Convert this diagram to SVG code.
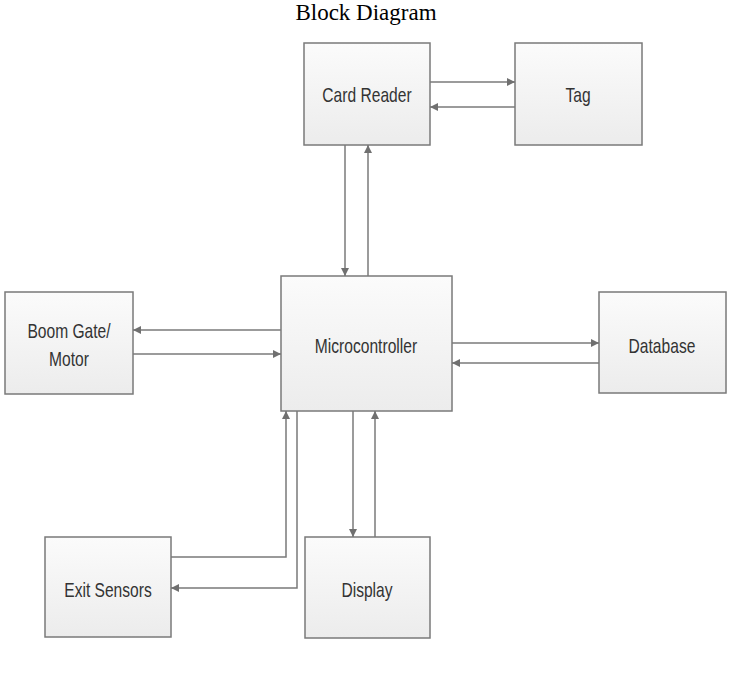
<svg xmlns="http://www.w3.org/2000/svg" width="730" height="685" viewBox="0 0 730 685">
<defs>
<linearGradient id="g" x1="0" y1="0" x2="0" y2="1"><stop offset="0" stop-color="#fbfbfb"/><stop offset="1" stop-color="#ececec"/></linearGradient>
<marker id="a" viewBox="0 0 10 10" refX="10" refY="5" markerWidth="8" markerHeight="8" markerUnits="userSpaceOnUse" orient="auto"><path d="M0,0L10,5L0,10z" fill="#707070"/></marker>
<style>
.b{fill:url(#g);stroke:#7a7a7a;stroke-width:1.5}
.t{font-family:"Liberation Sans",Arial,sans-serif;font-size:20px;fill:#333;text-anchor:middle}
.c{fill:none;stroke:#7a7a7a;stroke-width:1.5;marker-end:url(#a)}
</style>
</defs>
<rect width="730" height="685" fill="#fff"/>
<text x="366" y="20" font-family="Liberation Serif,serif" font-size="23" text-anchor="middle" fill="#000">Block Diagram</text>
<g id="cardreader"><rect class="b" x="304" y="43" width="126" height="102"/><text class="t" x="367" y="102" transform="translate(367 0) scale(0.78 1) translate(-367 0)">Card Reader</text></g>
<g id="tag"><rect class="b" x="515" y="43" width="127" height="102"/><text class="t" x="578" y="102" transform="translate(578 0) scale(0.78 1) translate(-578 0)">Tag</text></g>
<g id="micro"><rect class="b" x="281" y="276" width="171" height="135"/><text class="t" x="366" y="353" transform="translate(366 0) scale(0.78 1) translate(-366 0)">Microcontroller</text></g>
<g id="boom"><rect class="b" x="5" y="292" width="128" height="102"/><text class="t" x="69" y="338" transform="translate(69 0) scale(0.78 1) translate(-69 0)">Boom Gate/</text><text class="t" x="69" y="366" transform="translate(69 0) scale(0.78 1) translate(-69 0)">Motor</text></g>
<g id="database"><rect class="b" x="599" y="292" width="127" height="101"/><text class="t" x="662" y="353" transform="translate(662 0) scale(0.78 1) translate(-662 0)">Database</text></g>
<g id="exit"><rect class="b" x="45" y="537" width="126" height="100"/><text class="t" x="108" y="597" transform="translate(108 0) scale(0.78 1) translate(-108 0)">Exit Sensors</text></g>
<g id="display"><rect class="b" x="305" y="537" width="125" height="101"/><text class="t" x="367" y="597" transform="translate(367 0) scale(0.78 1) translate(-367 0)">Display</text></g>
<g id="connectors">
<path class="c" d="M430,82H515"/>
<path class="c" d="M515,107H430"/>
<path class="c" d="M345,145V276"/>
<path class="c" d="M368,276V145"/>
<path class="c" d="M281,330H133"/>
<path class="c" d="M133,354H281"/>
<path class="c" d="M452,343H599"/>
<path class="c" d="M599,363H452"/>
<path class="c" d="M171,557H286V411"/>
<path class="c" d="M297,411V588H171"/>
<path class="c" d="M353,411V537"/>
<path class="c" d="M375,537V411"/>
</g>
</svg>
